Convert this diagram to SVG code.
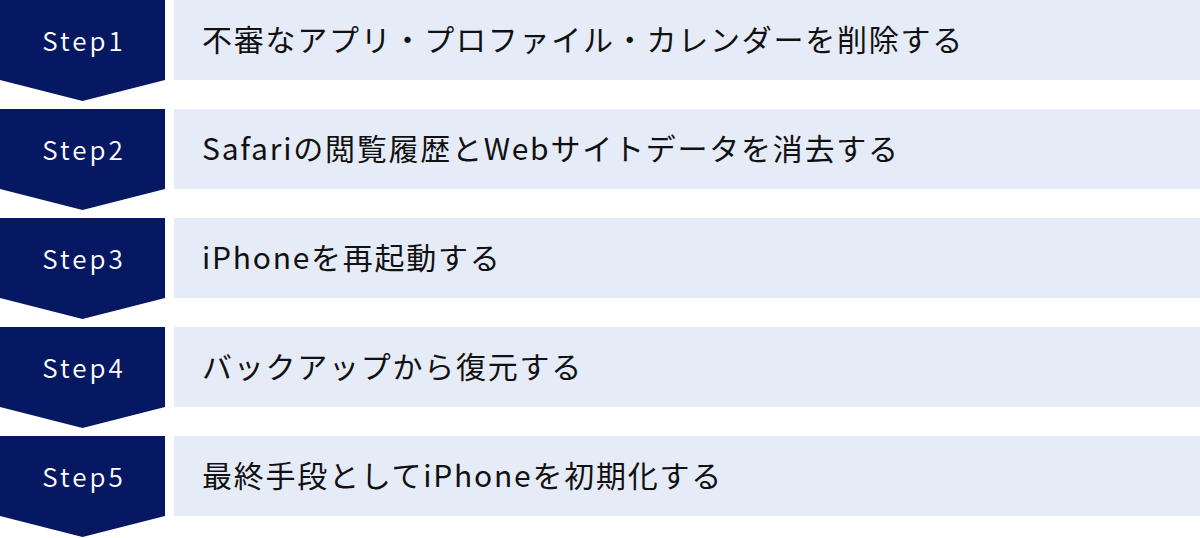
<svg xmlns="http://www.w3.org/2000/svg" width="1200" height="538" viewBox="0 0 1200 538">
<style>
.arrow{fill:#061862}
.panel{fill:#e6ebf8}
.step{font-family:"Noto Sans CJK JP","Noto Sans",sans-serif;font-size:26px;font-weight:350;fill:#ffffff;letter-spacing:3px;text-anchor:middle}
.label{font-family:"Noto Sans CJK JP","Noto Sans",sans-serif;font-size:30px;fill:#111111;letter-spacing:1.75px}
</style>
<rect width="1200" height="538" fill="#ffffff"/>
<g id="step1">
<polygon class="arrow" points="0,0 165,0 165,80 82.5,101 0,80"/>
<rect class="panel" x="174" y="0" width="1026" height="80"/>
<text class="step" x="84" y="51">Step1</text>
<text class="label" x="202" y="50.5">不審なアプリ・プロファイル・カレンダーを削除する</text>
</g>
<g id="step2">
<polygon class="arrow" points="0,109 165,109 165,189 82.5,210 0,189"/>
<rect class="panel" x="174" y="109" width="1026" height="80"/>
<text class="step" x="84" y="160">Step2</text>
<text class="label" x="202" y="159.5">Safariの閲覧履歴とWebサイトデータを消去する</text>
</g>
<g id="step3">
<polygon class="arrow" points="0,218 165,218 165,298 82.5,319 0,298"/>
<rect class="panel" x="174" y="218" width="1026" height="80"/>
<text class="step" x="84" y="269">Step3</text>
<text class="label" x="202" y="268.5">iPhoneを再起動する</text>
</g>
<g id="step4">
<polygon class="arrow" points="0,327 165,327 165,407 82.5,428 0,407"/>
<rect class="panel" x="174" y="327" width="1026" height="80"/>
<text class="step" x="84" y="378">Step4</text>
<text class="label" x="202" y="377.5">バックアップから復元する</text>
</g>
<g id="step5">
<polygon class="arrow" points="0,436 165,436 165,516 82.5,537 0,516"/>
<rect class="panel" x="174" y="436" width="1026" height="80"/>
<text class="step" x="84" y="487">Step5</text>
<text class="label" x="202" y="486.5">最終手段としてiPhoneを初期化する</text>
</g>
<g id="connectors"></g>
</svg>
